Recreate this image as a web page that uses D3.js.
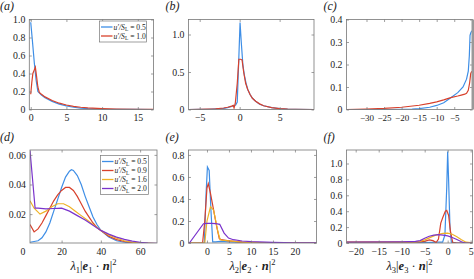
<!DOCTYPE html>
<html>
<head>
<meta charset="utf-8">
<script src="https://cdn.jsdelivr.net/npm/d3@7"></script>
<style>
  body { margin: 0; background: #fff; }
  svg text { font-family: "Liberation Serif", "DejaVu Serif", serif; fill: #222; }
</style>
</head>
<body>
<svg id="chart" width="474" height="279"></svg>
<script>
// ---- data ----
// (a)
var aBlueX = [0, 0.25, 0.5, 0.75, 1, 1.5, 2, 3, 4, 5, 6, 7, 8, 10, 12, 15, 17.2];
var aBlueY = [0.97, 0.75, 0.52, 0.33, 0.2, 0.16, 0.13, 0.09, 0.06, 0.04, 0.025, 0.015, 0.01, 0.004, 0.002, 0.001, 0];
var aRedX = [0, 0.15, 0.3, 0.5, 0.65, 0.8, 1.0, 1.2, 1.5, 2, 3, 4, 5, 6, 7, 8, 10, 12, 15, 17.2];
var aRedY = [0.17, 0.3, 0.4, 0.44, 0.47, 0.38, 0.25, 0.19, 0.17, 0.14, 0.1, 0.07, 0.05, 0.035, 0.025, 0.018, 0.01, 0.005, 0.002, 0.001];
// (b)
var bBlueX = [-6.4, -5, -4, -3, -2, -1.5, -1, -0.75, -0.5, -0.3, -0.1, 0.05, 0.2, 0.4, 0.6, 0.8, 1, 1.3, 1.6, 2, 2.5, 3, 4, 5, 6, 7, 9.3];
var bBlueY = [0, 0.001, 0.003, 0.008, 0.015, 0.025, 0.04, 0.05, 0.06, 0.1, 0.7, 1.16, 0.9, 0.6, 0.45, 0.35, 0.27, 0.2, 0.15, 0.11, 0.07, 0.05, 0.025, 0.012, 0.006, 0.003, 0];
var bRedX = [-6.4, -5, -4, -3, -2, -1.5, -1, -0.8, -0.7, -0.55, -0.3, -0.1, 0.1, 0.3, 0.5, 0.75, 1, 1.3, 1.6, 2, 2.5, 3, 4, 5, 6, 7, 9.3];
var bRedY = [0, 0.002, 0.005, 0.01, 0.02, 0.03, 0.045, 0.055, 0.02, 0.08, 0.35, 0.67, 0.67, 0.66, 0.5, 0.35, 0.27, 0.2, 0.15, 0.11, 0.075, 0.05, 0.025, 0.012, 0.006, 0.003, 0];
// (c)
var cBlueX = [-35.7, -25, -20, -17, -15, -12, -10, -8, -6, -4, -2.5, -1.5, -1, -0.7, -0.5, -0.3, 0];
var cBlueY = [0, 0, 0.001, 0.002, 0.004, 0.01, 0.018, 0.03, 0.052, 0.075, 0.1, 0.135, 0.17, 0.24, 0.33, 0.34, 0.35];
var cRedX = [-35.7, -30, -25, -20, -15, -12, -10, -8, -6, -4, -3, -2, -1.5, -1, -0.6, -0.3, 0];
var cRedY = [0, 0.002, 0.005, 0.01, 0.019, 0.027, 0.034, 0.043, 0.053, 0.06, 0.064, 0.068, 0.072, 0.085, 0.12, 0.16, 0.17];
// (d)
var dBlueX = [3.9, 6, 8, 10, 12, 14, 16, 18, 20, 22, 24, 25, 26, 28, 30, 32, 34, 36, 38, 40, 44, 48, 52, 56, 60, 64, 68.6];
var dBlueY = [0.001, 0.0015, 0.002, 0.004, 0.008, 0.014, 0.022, 0.03, 0.038, 0.045, 0.049, 0.05, 0.0495, 0.046, 0.04, 0.032, 0.025, 0.018, 0.013, 0.009, 0.0045, 0.002, 0.001, 0.0005, 0.0003, 0.0002, 0.0001];
var dRedX = [3.9, 6, 8, 10, 12, 14, 16, 18, 20, 22, 24, 26, 28, 30, 32, 34, 36, 38, 40, 44, 48, 52, 56, 60, 68.6];
var dRedY = [0.013, 0.008, 0.01, 0.014, 0.019, 0.024, 0.029, 0.033, 0.036, 0.038, 0.038, 0.036, 0.032, 0.027, 0.022, 0.018, 0.014, 0.011, 0.009, 0.005, 0.0028, 0.0015, 0.0008, 0.0004, 0.0001];
var dYellowX = [3.9, 6, 9, 12, 15, 18, 21, 24, 27, 30, 33, 36, 40, 44, 48, 52, 56, 60, 68.6];
var dYellowY = [0.029, 0.024, 0.02, 0.022, 0.025, 0.027, 0.027, 0.025, 0.022, 0.019, 0.016, 0.013, 0.009, 0.006, 0.0037, 0.002, 0.001, 0.0005, 0.0001];
var dPurpleX = [3.9, 6.5, 8, 12, 16, 20, 24, 28, 32, 36, 40, 44, 48, 52, 56, 60, 64, 68.6];
var dPurpleY = [0.063, 0.024, 0.024, 0.0235, 0.0238, 0.024, 0.022, 0.019, 0.016, 0.0125, 0.009, 0.0065, 0.0045, 0.003, 0.0018, 0.001, 0.0005, 0.0002];
// (e)
var eBlueX = [-4.2, -0.6, -0.2, 0.1, 0.5, 0.9, 1.3, 2, 3, 5, 8, 12, 24.9];
var eBlueY = [0, 0, 0.45, 0.69, 0.66, 0.3, 0.01, 0.01, 0.015, 0.01, 0.005, 0.002, 0];
var eRedX = [-4.2, -1, -0.5, 0, 0.3, 0.8, 1.5, 2.2, 2.8, 3.2, 5, 8, 12, 24.9];
var eRedY = [0, 0, 0.2, 0.5, 0.54, 0.45, 0.3, 0.15, 0.04, 0.03, 0.02, 0.008, 0.003, 0];
var eYellowX = [-4.2, -0.5, 0, 0.8, 1.5, 2.5, 3, 3.5, 5, 8, 12, 24.9];
var eYellowY = [0, 0, 0.2, 0.33, 0.3, 0.1, 0.03, 0.025, 0.02, 0.008, 0.003, 0];
var ePurpleX = [-4, -0.8, 0, 1, 2, 2.9, 3.9, 4.9, 6, 8, 10, 15, 20, 24.9];
var ePurpleY = [0, 0.175, 0.178, 0.178, 0.176, 0.17, 0.09, 0.045, 0.03, 0.018, 0.012, 0.005, 0.002, 0.001];
// (f)
var fBlueX = [-22, -10, -5, -2, -1.1, -0.6, -0.2, 0, 0.2, 0.5, 0.8, 2, 5.4];
var fBlueY = [0.005, 0.005, 0.005, 0.01, 0.01, 0.1, 0.7, 1.15, 0.8, 0.2, 0.01, 0, 0];
var fRedX = [-22, -10, -6, -5, -4, -3.2, -2.5, -2, -1.5, -1, -0.5, -0.2, 0.2, 0.6, 1.1, 2, 5.4];
var fRedY = [0.01, 0.012, 0.015, 0.02, 0.04, 0.03, 0.005, 0.05, 0.25, 0.33, 0.4, 0.41, 0.35, 0.15, 0.005, 0, 0];
var fYellowX = [-22, -10, -7, -6, -5, -4, -3, -2, -1, 0, 1, 2, 3, 4, 5.4];
var fYellowY = [0.01, 0.012, 0.015, 0.02, 0.04, 0.065, 0.09, 0.11, 0.12, 0.125, 0.11, 0.08, 0.04, 0.01, 0.002];
var fPurpleX = [-22, -10, -7, -6, -5, -4, -3, -2, -1, 0, 1, 2, 3, 3.8, 5.4];
var fPurpleY = [0.01, 0.015, 0.02, 0.03, 0.06, 0.085, 0.1, 0.105, 0.1, 0.09, 0.07, 0.045, 0.015, 0, 0];

// legend values u'/S_L
var legendTop = ["0.5", "1.0"];
var legendBottom = ["0.5", "0.9", "1.6", "2.0"];

var blue = "#3e8ee6", red = "#d8412c", yellow = "#efb226", purple = "#7a33cc";
var serif = "'Liberation Serif', 'DejaVu Serif', serif";

function zipXY(xs, ys) {
    return xs.map(function(x, i) { return [x, ys[i]]; });
}

var panels = [
    { tag: "(a)", l: 29.3, r: 153.5, t: 19.5, b: 109.5, xDom: [-0.2, 17.2], yDom: [0, 1.0],
      xTicks: [0, 5, 10, 15], yTicks: [0, 0.2, 0.4, 0.6, 0.8, 1.0], yDec: 1,
      lines: [[aBlueX, aBlueY, blue], [aRedX, aRedY, red]] },
    { tag: "(b)", l: 188.5, r: 314, t: 19.5, b: 109.5, xDom: [-6.4, 9.3], yDom: [0, 1.2],
      xTicks: [-5, 0, 5], yTicks: [0, 0.5, 1.0], yDec: 1,
      lines: [[bBlueX, bBlueY, blue], [bRedX, bRedY, red]] },
    { tag: "(c)", l: 346.5, r: 472.5, t: 19.5, b: 109.5, xDom: [-35.7, 0.2], yDom: [0, 0.4],
      xTicks: [-30, -25, -20, -15, -10, -5], yTicks: [0, 0.1, 0.2, 0.3, 0.4], yDec: 1, xFont: 9,
      lines: [[cBlueX, cBlueY, blue], [cRedX, cRedY, red]] },
    { tag: "(d)", l: 30, r: 157, t: 150, b: 243, xDom: [3.9, 68.6], yDom: [0.0005, 0.0633],
      xTicks: [0, 20, 40, 60], yTicks: [0.02, 0.04, 0.06], yDec: 2,
      lines: [[dBlueX, dBlueY, blue], [dRedX, dRedY, red], [dYellowX, dYellowY, yellow], [dPurpleX, dPurpleY, purple]],
      xlab: 1 },
    { tag: "(e)", l: 188.5, r: 316.5, t: 150, b: 243, xDom: [-4.2, 24.9], yDom: [0, 0.845],
      xTicks: [0, 5, 10, 15, 20], yTicks: [0, 0.2, 0.4, 0.6, 0.8], yDec: 1,
      lines: [[eBlueX, eBlueY, blue], [eRedX, eRedY, red], [eYellowX, eYellowY, yellow], [ePurpleX, ePurpleY, purple]],
      xlab: 2 },
    { tag: "(f)", l: 346.5, r: 472.5, t: 150, b: 243, xDom: [-22, 5.4], yDom: [0, 1.17],
      xTicks: [-20, -15, -10, -5, 0, 5], yTicks: [0, 0.2, 0.4, 0.6, 0.8, 1.0], yDec: 1,
      lines: [[fBlueX, fBlueY, blue], [fRedX, fRedY, red], [fYellowX, fYellowY, yellow], [fPurpleX, fPurpleY, purple]],
      xlab: 3 }
];

var svg = d3.select("#chart");
svg.append("rect").attr("width", 474).attr("height", 279).attr("fill", "#fff");

panels.forEach(function(p, idx) {
    var x = d3.scaleLinear().domain(p.xDom).range([p.l, p.r]);
    var y = d3.scaleLinear().domain(p.yDom).range([p.b, p.t]);
    var g = svg.append("g");
    var yFmt = function(d) { return d === 0 ? "0" : d3.format("." + p.yDec + "f")(d); };

    var clipId = "clip" + idx;
    g.append("clipPath").attr("id", clipId).append("rect")
        .attr("x", p.l).attr("y", p.t - 1).attr("width", p.r - p.l).attr("height", p.b - p.t + 1);

    var line = d3.line().x(function(d) { return x(d[0]); }).y(function(d) { return y(d[1]); });
    p.lines.forEach(function(s) {
        g.append("path")
            .attr("d", line(zipXY(s[0], s[1])))
            .attr("fill", "none")
            .attr("stroke", s[2])
            .attr("stroke-width", 1.2)
            .attr("clip-path", "url(#" + clipId + ")");
    });

    // frame
    g.append("rect").attr("x", p.l).attr("y", p.t).attr("width", p.r - p.l).attr("height", p.b - p.t)
        .attr("fill", "none").attr("stroke", "#777").attr("stroke-width", 0.8);

    var xAxis = d3.axisBottom(x).tickValues(p.xTicks).tickSizeInner(-2.5).tickSizeOuter(0).tickPadding(5)
        .tickFormat(d3.format("d"));
    var gx = g.append("g").attr("transform", "translate(0," + p.b + ")").call(xAxis);
    var gxt = g.append("g").attr("transform", "translate(0," + p.t + ")")
        .call(d3.axisTop(x).tickValues(p.xTicks).tickSizeInner(-2.5).tickSizeOuter(0).tickFormat(""));
    var yAxis = d3.axisLeft(y).tickValues(p.yTicks).tickSizeInner(-2.5).tickSizeOuter(0).tickPadding(4)
        .tickFormat(yFmt);
    var gy = g.append("g").attr("transform", "translate(" + p.l + ",0)").call(yAxis);
    var gyr = g.append("g").attr("transform", "translate(" + p.r + ",0)")
        .call(d3.axisRight(y).tickValues(p.yTicks).tickSizeInner(-2.5).tickSizeOuter(0).tickFormat(""));

    [gx, gxt, gy, gyr].forEach(function(a) {
        a.attr("font-family", serif).attr("font-size", 9.8);
        a.select(".domain").remove();
        a.selectAll(".tick line").attr("stroke", "#777").attr("stroke-width", 0.7);
        a.selectAll("text").attr("fill", "#222");
    });
    if (p.xFont) gx.attr("font-size", p.xFont);
    // tick marks outside the frame are not drawn
    [gx, gxt].forEach(function(a) {
        a.selectAll(".tick").filter(function(d) { return x(d) < p.l || x(d) > p.r; })
            .select("line").remove();
    });

    svg.append("text").attr("x", idx % 3 === 0 ? 0 : p.l - 23).attr("y", p.t - 9.5)
        .attr("font-size", 12).attr("font-style", "italic").text(p.tag);

    if (p.xlab) {
        var t = svg.append("text").attr("x", (p.l + p.r) / 2).attr("y", 270)
            .attr("text-anchor", "middle").attr("font-size", 12.5);
        t.append("tspan").attr("font-style", "italic").text("λ");
        t.append("tspan").attr("font-size", 8.5).attr("dy", 3).text(p.xlab);
        t.append("tspan").attr("dy", -3).text("|");
        t.append("tspan").attr("font-style", "italic").attr("font-weight", "bold").text("e");
        t.append("tspan").attr("font-size", 8.5).attr("dy", 3).text(p.xlab);
        t.append("tspan").attr("dy", -3).text(" · ");
        t.append("tspan").attr("font-style", "italic").attr("font-weight", "bold").text("n");
        t.append("tspan").text("|");
        t.append("tspan").attr("font-size", 8.5).attr("dy", -5).text("2");
    }
});

// grey edge on the right of panel (c)
svg.append("rect").attr("x", 471.5).attr("y", 19.5).attr("width", 2.5).attr("height", 90).attr("fill", "#999");

function legend(x0, y0, w, labels, colors) {
    var rowH = 9;
    var h = labels.length * rowH + 3;
    svg.append("rect").attr("x", x0).attr("y", y0).attr("width", w).attr("height", h)
        .attr("fill", "#fff").attr("stroke", "#777").attr("stroke-width", 0.7);
    labels.forEach(function(v, i) {
        var cy = y0 + 6 + i * rowH;
        svg.append("line").attr("x1", x0 + 1.5).attr("x2", x0 + 13).attr("y1", cy).attr("y2", cy)
            .attr("stroke", colors[i]).attr("stroke-width", 1.3);
        var t = svg.append("text").attr("x", x0 + 14).attr("y", cy + 2.6).attr("font-size", 7.6);
        t.append("tspan").attr("font-style", "italic").text("u′/S");
        t.append("tspan").attr("font-size", 5.5).attr("dy", 1.5).text("L");
        t.append("tspan").attr("dy", -1.5).text(" = " + v);
    });
}
legend(99.5, 21, 47, legendTop, [blue, red]);
legend(100.5, 155.5, 48, legendBottom, [blue, red, yellow, purple]);
</script>
</body>
</html>
